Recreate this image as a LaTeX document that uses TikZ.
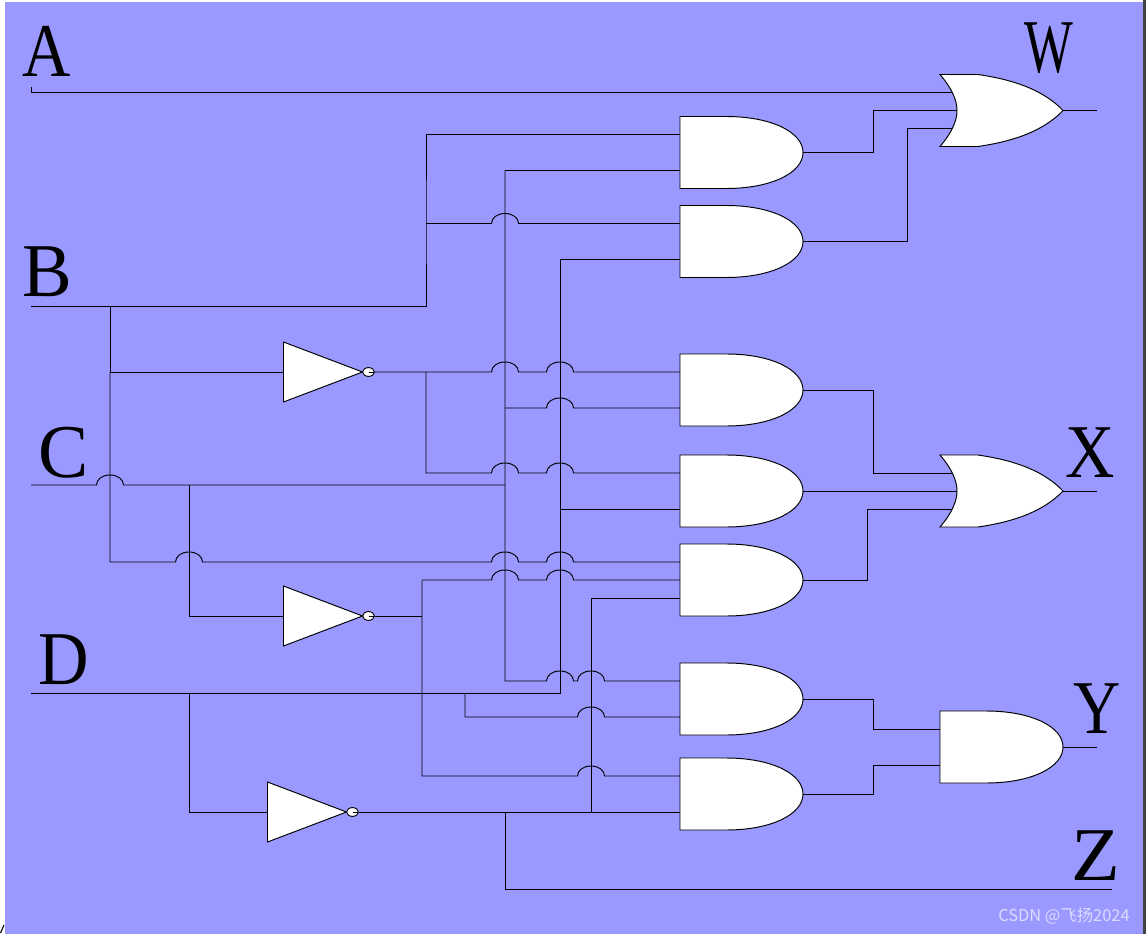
\documentclass[tikz,border=0pt]{standalone}
\usepackage{fontspec}
\setmainfont{Liberation Serif}
\newfontfamily\wmfont{Noto Sans CJK SC}
\definecolor{panelblue}{HTML}{9999FF}
\definecolor{stripgray}{HTML}{444444}
\newcommand{\bp}[2]{-- (#1-13.5,#2) .. controls (#1-13.5,#2-5.5) and (#1-8,#2-10) .. (#1,#2-10) .. controls (#1+8,#2-10) and (#1+13.5,#2-5.5) .. (#1+13.5,#2)}
\tikzset{
  wire/.style={draw=black,line width=0.72pt,line join=miter},
  gatebody/.style={draw=black,fill=white,line width=0.72pt,line join=miter},
  biglabel/.style={anchor=base west,inner sep=0pt,font=\fontsize{57}{57}\selectfont},
  andg/.pic={
    \path[gatebody] (0,-36) -- (46,-36) .. controls (92,-36) and (123,-20) .. (123,0)
       .. controls (123,20) and (92,36) .. (46,36) -- (0,36) -- cycle;
    \coordinate (-a) at (0,-18);
    \coordinate (-m) at (0,0);
    \coordinate (-b) at (0,18);
    \coordinate (-o) at (123,0);
  },
  org/.pic={
    \path[gatebody] (0,-36) -- (38,-36) .. controls (65,-32) and (100,-24) .. (123,0)
       .. controls (100,24) and (65,32) .. (38,36) -- (0,36)
       .. controls (12,22) and (17,10) .. (17,0)
       .. controls (17,-10) and (12,-22) .. (0,-36) -- cycle;
    \coordinate (-a) at (12,-18);
    \coordinate (-m) at (17,0);
    \coordinate (-b) at (12,18);
    \coordinate (-o) at (123,0);
  },
  invg/.pic={
    \path[gatebody] (0,-30) -- (79,0) -- (0,30) -- cycle;
    \path[gatebody,line width=0.7pt] (85,0) ellipse [x radius=4.4pt,y radius=3.3pt];
    \draw[line width=0.7pt] (85,0) -- (90,0);
    \coordinate (-i) at (0,0);
    \coordinate (-o) at (91,0);
  }
}
\begin{document}
\begin{tikzpicture}[x=0.75pt,y=-0.75pt]
\useasboundingbox (0,0) rectangle (1146,934);
\fill[white] (0,0) rectangle (1146,934);
\fill[panelblue] (5,2) rectangle (1143,934);
\fill[stripgray] (1143,0) rectangle (1146,934);
\draw[line width=0.8pt] (0.5,933) -- (4,925);

% gates
\pic (g1) at (680,152.5) {andg};
\pic (g2) at (680,241.5) {andg};
\pic (g3) at (680,390) {andg};
\pic (g4) at (680,491) {andg};
\pic (g5) at (680,580) {andg};
\pic (g6) at (680,699) {andg};
\pic (g7) at (680,794) {andg};
\pic (gy) at (940,747) {andg};
\pic (ow) at (940,110.5) {org};
\pic (ox) at (940,491) {org};
\pic (n1) at (283.5,372) {invg};
\pic (n2) at (283.5,616) {invg};
\pic (n3) at (267.5,812) {invg};

% free ends and junctions
\coordinate (aS) at (31,87);
\coordinate (aT) at (31,92.5);
\coordinate (wOut) at (1097,110.5);
\coordinate (xOut) at (1097,491);
\coordinate (yOut) at (1097,747);
\coordinate (bS) at (31,306.5);
\coordinate (bT) at (110,306.5);
\coordinate (bR) at (426,306.5);
\coordinate (bJ) at (426,223.5);
\coordinate (bL) at (110,372);
\coordinate (bD) at (110,562);
\coordinate (cS) at (31,485);
\coordinate (cE) at (505,485);
\coordinate (cT) at (189,485);
\coordinate (cR) at (505,170.5);
\coordinate (cB) at (505,681);
\coordinate (cJ) at (505,408);
\coordinate (n1J) at (426,372);
\coordinate (n1B) at (426,473);
\coordinate (n2J) at (422,616);
\coordinate (n2T) at (422,580);
\coordinate (n2B) at (422,776);
\coordinate (dS) at (31,693);
\coordinate (dR) at (560,693);
\coordinate (dJ) at (560,509);
\coordinate (dT) at (560,259.5);
\coordinate (dA) at (465,693);
\coordinate (dB) at (465,717);
\coordinate (dN) at (189,693);
\coordinate (n3T) at (591,812);
\coordinate (n3U) at (591,598);
\coordinate (zJ) at (505,812);
\coordinate (zB) at (505,889);
\coordinate (zE) at (1112,889);

% A
\draw[wire] (aS) -- (aT) -- (ow-a);
\draw[wire] (ow-o) -- (wOut);
% B
\draw[wire] (bS) -- (bR) -- (bJ) |- (g1-a);
\draw[wire] (bJ) \bp{505}{223.5} -- (g2-a);
\draw[wire] (bT) -- (bL) -- (n1-i);
\draw[wire] (bL) -- (bD) \bp{189}{562} \bp{505}{562} \bp{560}{562} -- (g5-a);
% inverter 1
\draw[wire] (n1-o) \bp{505}{372} \bp{560}{372} -- (g3-a);
\draw[wire] (n1J) -- (n1B) \bp{505}{473} \bp{560}{473} -- (g4-a);
% C
\draw[wire] (cS) \bp{110}{485} -- (cE);
\draw[wire] (cR) -- (g1-b);
\draw[wire] (cR) -- (cB) \bp{560}{681} \bp{591}{681} -- (g6-a);
\draw[wire] (cJ) \bp{560}{408} -- (g3-b);
\draw[wire] (cT) |- (n2-i);
% inverter 2
\draw[wire] (n2-o) -- (n2J);
\draw[wire] (n2T) \bp{505}{580} \bp{560}{580} -- (g5-m);
\draw[wire] (n2T) -- (n2B) \bp{591}{776} -- (g7-a);
% D
\draw[wire] (dS) -- (dR) -- (dT) -- (g2-b);
\draw[wire] (dJ) -- (g4-b);
\draw[wire] (dA) -- (dB) \bp{591}{717} -- (g6-b);
\draw[wire] (dN) |- (n3-i);
% inverter 3
\draw[wire] (n3-o) -- (g7-b);
\draw[wire] (n3T) -- (n3U) -- (g5-b);
\draw[wire] (zJ) -- (zB) -- (zE);
% gate outputs
\draw[wire] (g1-o) -- (873.5,152.5) -- (873.5,110.5) -- (ow-m);
\draw[wire] (g2-o) -- (907,241.5) -- (907,128.5) -- (ow-b);
\draw[wire] (g3-o) -- (873.5,390) -- (873.5,473) -- (ox-a);
\draw[wire] (g4-o) -- (ox-m);
\draw[wire] (g5-o) -- (867,580) -- (867,509) -- (ox-b);
\draw[wire] (ox-o) -- (xOut);
\draw[wire] (g6-o) -- (873.5,699) -- (873.5,729) -- (gy-a);
\draw[wire] (g7-o) -- (873.5,794) -- (873.5,765) -- (gy-b);
\draw[wire] (gy-o) -- (yOut);

% labels
\node[biglabel,xscale=.88] (la) at (22.5,77) {A};
\node[biglabel,xscale=.98] (lb) at (22,297) {B};
\node[biglabel,xscale=.99] (lc) at (38,477) {C};
\node[biglabel,xscale=.92] (ld) at (38,684) {D};
\node[biglabel,xscale=.68] (lw) at (1024.5,73) {W};
\node[biglabel,xscale=.90] (lx) at (1065,477) {X};
\node[biglabel,xscale=.86] (ly) at (1073,733) {Y};
\node[biglabel,xscale=1.05] (lz) at (1071,880) {Z};
\node[anchor=base west,inner sep=0pt,text=white,text opacity=.65,font=\wmfont\fontsize{12.3}{14}\selectfont] (wm) at (998,921) {CSDN @飞扬2024};
\end{tikzpicture}
\end{document}
